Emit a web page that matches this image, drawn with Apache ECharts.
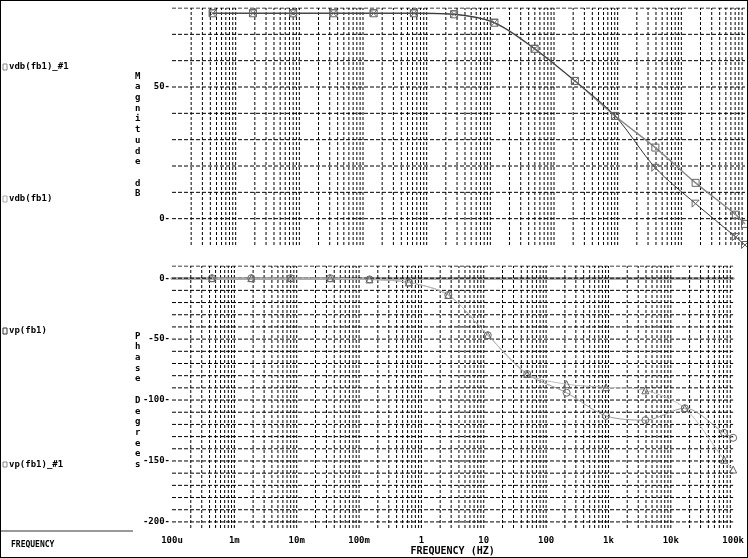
<!DOCTYPE html>
<html><head><meta charset="utf-8">
<script src="https://cdn.jsdelivr.net/npm/echarts@6/dist/echarts.min.js"></script>
<style>html,body{margin:0;padding:0;background:#fff}#c{width:748px;height:558px;box-sizing:border-box;border:1px solid #000}</style>
</head><body><div id="c"></div>
<script>
const freqs = [4.37e-4,1.87e-3,8.0e-3,0.0344,0.147,0.631,2.70,11.6,49.7,213,912,3908,16749,71779,1e5];
const vdb1 = [78,78,78,78,78,78,77.6,74.4,64.5,52.3,39,27,13.6,1.5,-2];
const vdb  = [78,78,78,78,78,78,77.6,74.4,64.5,52.3,39,19.3,5.7,-7,-10];
const vp   = [0,0,0,0,-1,-3.5,-13.8,-46.8,-78.6,-94,-113,-116.5,-106.7,-127,-131];
const vp1  = [0,0,0,0,-1,-3.5,-13.8,-46.8,-78.6,-87,-89.5,-92,-106.7,-149,-157];
const xTicks = ['100u','1m','10m','100m','1','10','100','1k','10k','100k'];
const magTicks = [0,50];
const phaseTicks = [0,-50,-100,-150,-200];

const F = 'DejaVu Sans Mono';
const vLines = [];
for (let d=-4; d<5; d++) for (let k=1;k<10;k++) vLines.push(k*Math.pow(10,d));
function gridLines(xi, ymin, ymax){
  const out=[];
  const ls={type:[3,2],color:'#000',width:1};
  vLines.forEach(v=>{ if(v>1e-4) out.push({type:'line',xAxisIndex:xi,yAxisIndex:xi,data:[[v,ymin],[v,ymax]],symbol:'none',silent:true,lineStyle:ls,z:1}); });
  for(let y=ymin+ (xi===1?5:0); y<=ymax; y+=10){
    if(xi===0 && y===ymin) continue;
    out.push({type:'line',xAxisIndex:xi,yAxisIndex:xi,data:[[1e-4,y],[1e5,y]],symbol:'none',silent:true,lineStyle:{type:[4,2],color:'#000',width:1},z:1});
  }
  return out;
}
const X = 'path://M0,0L10,10M10,0L0,10L0,0Z';
function ser(name,xi,vals,sym,color,w){
  return {name,type:'line',xAxisIndex:xi,yAxisIndex:xi,data:freqs.map((f,i)=>[f,vals[i]]),
    smooth:0.3,symbol:sym,symbolSize:7,showSymbol:true,
    lineStyle:{color,width:w},itemStyle:{color:'rgba(255,255,255,0)',borderColor:'#666',borderWidth:1},z:5};
}
const tickLbl = (list)=>v=>{ const l=Math.log10(v); const i=Math.round(l+4); return Math.abs(l-Math.round(l))<1e-6 ? (list[i]||'') : '';};
const chart = echarts.init(document.getElementById('c'));
chart.setOption({
  animation:false,
  grid:[{left:171,right:2,top:7,height:237},{left:171,right:2,top:265,height:265}],
  xAxis:[
    {type:'log',gridIndex:0,min:1e-4,max:1e5,logBase:10,axisLabel:{show:false},axisTick:{show:false},splitLine:{show:false},axisLine:{show:false}},
    {type:'log',gridIndex:1,min:1e-4,max:1e5,logBase:10,splitLine:{show:false},axisTick:{show:false},
     axisLine:{lineStyle:{color:'#aaa',width:3}},
     axisLabel:{formatter:tickLbl(xTicks),fontFamily:F,fontSize:9,fontWeight:'bold',color:'#000',margin:8,showMaxLabel:true,align:'center'},
     name:'FREQUENCY (HZ)',nameLocation:'middle',nameGap:18,nameTextStyle:{fontFamily:F,fontSize:10,fontWeight:'bold',color:'#000'}}
  ],
  yAxis:[
    {type:'value',gridIndex:0,min:-10,max:80,interval:10,splitLine:{show:false},axisLine:{show:false},axisTick:{show:false},
     axisLabel:{formatter:v=>magTicks.includes(v)?v+'-':'',fontFamily:F,fontSize:9,fontWeight:'bold',color:'#000',margin:2}},
    {type:'value',gridIndex:1,min:-205,max:10,interval:5,splitLine:{show:false},axisLine:{show:false},axisTick:{show:false},
     axisLabel:{formatter:v=>phaseTicks.includes(v)?v+'-':'',fontFamily:F,fontSize:9,fontWeight:'bold',color:'#000',margin:2}}
  ],
  series:[].concat(gridLines(0,-10,80), gridLines(1,-205,10), [
    ser('vdb(fb1)_#1',0,vdb1,'rect','#888',1.5),
    ser('vdb(fb1)',0,vdb,X,'#333',1),
    ser('vp(fb1)',1,vp,'circle','#999',1),
    ser('vp(fb1)_#1',1,vp1,'triangle','#bbb',1)
  ]),
  graphic:[
    {type:'text',left:8,top:61,style:{text:'vdb(fb1)_#1',font:'bold 9px '+F,fill:'#000'}},
    {type:'text',left:8,top:193,style:{text:'vdb(fb1)',font:'bold 9px '+F,fill:'#000'}},
    {type:'text',left:8,top:325,style:{text:'vp(fb1)',font:'bold 9px '+F,fill:'#000'}},
    {type:'text',left:8,top:459,style:{text:'vp(fb1)_#1',font:'bold 9px '+F,fill:'#000'}},
    {type:'rect',shape:{x:2,y:63,width:4,height:6},style:{fill:'none',stroke:'#888'}},
    {type:'rect',shape:{x:2,y:195,width:4,height:6},style:{fill:'none',stroke:'#aaa'}},
    {type:'rect',shape:{x:2,y:327,width:4,height:6},style:{fill:'none',stroke:'#333'}},
    {type:'rect',shape:{x:2,y:461,width:4,height:5},style:{fill:'none',stroke:'#888'}},
    {type:'text',left:134,top:70,style:{text:'M\na\ng\nn\ni\nt\nu\nd\ne\n\nd\nB',font:'bold 9px '+F,fill:'#000',lineHeight:10.7}},
    {type:'text',left:134,top:330,style:{text:'P\nh\na\ns\ne\n\nD\ne\ng\nr\ne\ne\ns',font:'bold 9px '+F,fill:'#000',lineHeight:10.7}},
    {type:'line',shape:{x1:0,y1:530,x2:132,y2:530},style:{stroke:'#999',lineWidth:2}},
    {type:'text',left:10,top:540,style:{text:'FREQUENCY',font:'bold 8px '+F,fill:'#000'}}
  ]
});
</script></body></html>
